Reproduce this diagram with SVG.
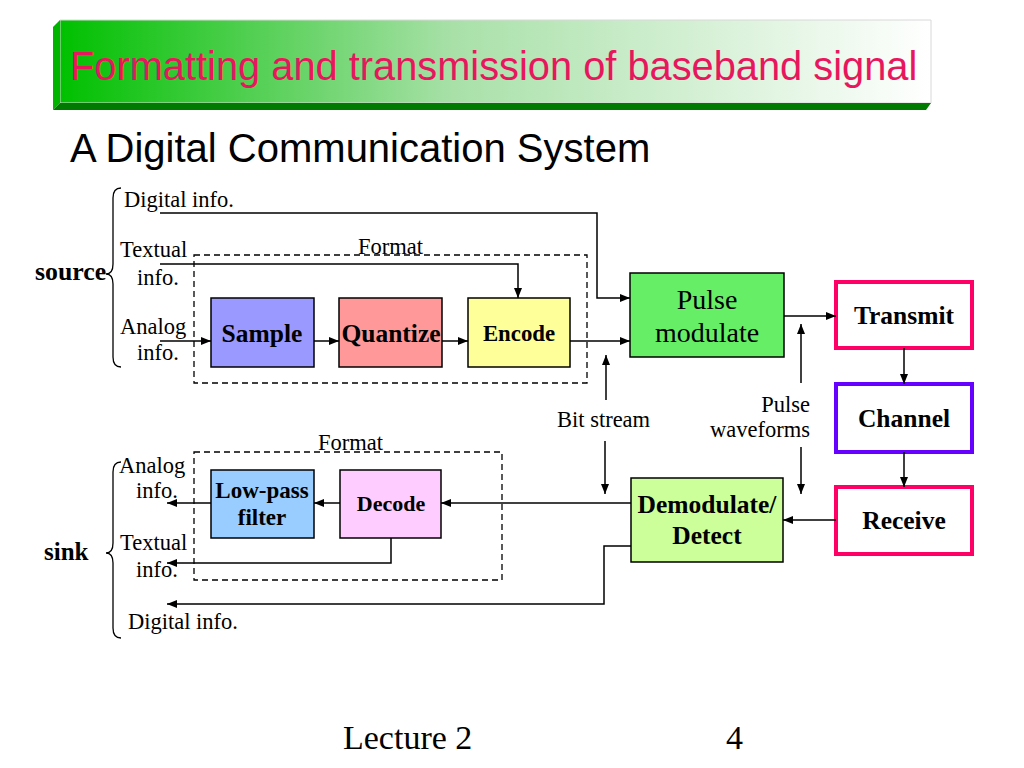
<svg xmlns="http://www.w3.org/2000/svg" width="1024" height="768" viewBox="0 0 1024 768">
<defs>
<linearGradient id="bg" x1="0" y1="0" x2="1" y2="0">
<stop offset="0" stop-color="#00C000"/>
<stop offset="0.45" stop-color="#A8E0A8"/>
<stop offset="1" stop-color="#FFFFFF"/>
</linearGradient>
<marker id="ah" viewBox="0 0 10 10" refX="10" refY="5" markerWidth="10" markerHeight="10" markerUnits="userSpaceOnUse" orient="auto">
<path d="M0,1 L10,5 L0,9 z" fill="#000"/>
</marker>
<style>
.serif{font-family:"Liberation Serif","Times New Roman",serif;fill:#000}
.lbl{font-size:22.5px}
.b{font-weight:bold}
.bx{font-size:25.5px;font-weight:bold}
.c{stroke:#000;stroke-width:1.5;fill:none}
.box{stroke:#000;stroke-width:1.5}
.dash{stroke:#000;stroke-width:1.3;fill:none;stroke-dasharray:6,4}
.brace{stroke:#000;stroke-width:1.3;fill:none}
</style>
</defs>
<rect width="1024" height="768" fill="#fff"/>
<g id="banner">
<polygon points="60,20 931,20 931,103 60,103" fill="url(#bg)" stroke="#D8D8D8" stroke-width="1"/>
<polygon points="53,27 60,20 60,103 53,110" fill="#00B400"/>
<polygon points="53,110 60,103 931,103 926,110" fill="#007A00"/>
<text x="70" y="80" font-family="Liberation Sans, Arial, sans-serif" font-size="39.8" fill="#E8175D">Formatting and transmission of baseband signal</text>
</g>
<text x="70" y="162" font-family="Liberation Sans, Arial, sans-serif" font-size="40" fill="#000">A Digital Communication System</text>
<g id="source-labels" class="serif">
<path class="brace" d="M121,188 Q113,188 113,198 L113,264 Q113,274 106,274 Q113,274 113,284 L113,357 Q113,367 121,367"/>
<text x="35" y="280" font-size="25.8" class="b">source</text>
<text x="124" y="207" class="lbl">Digital info.</text>
<text x="120" y="257" class="lbl">Textual</text>
<text x="137" y="285" class="lbl">info.</text>
<text x="120" y="334" class="lbl">Analog</text>
<text x="137" y="360" class="lbl">info.</text>
<text x="358" y="254" class="lbl">Format</text>
</g>
<g id="sink-labels" class="serif">
<path class="brace" d="M121,462 Q113,462 113,472 L113,543 Q113,553 106,553 Q113,553 113,563 L113,628 Q113,638 121,638"/>
<text x="44" y="560" font-size="25" class="b">sink</text>
<text x="119" y="473" class="lbl">Analog</text>
<text x="136" y="498" class="lbl">info.</text>
<text x="120" y="550" class="lbl">Textual</text>
<text x="136" y="577" class="lbl">info.</text>
<text x="128" y="629" class="lbl">Digital info.</text>
<text x="318" y="450" class="lbl">Format</text>
</g>
<g id="format-boxes">
<rect class="dash" x="194" y="255" width="393" height="128"/>
<rect class="dash" x="194" y="452" width="308" height="128"/>
</g>
<g id="sample"><rect class="box" x="211" y="298" width="103" height="69" fill="#9999FF"/><text class="serif bx" x="262" y="342" text-anchor="middle">Sample</text></g>
<g id="quantize"><rect class="box" x="339" y="298" width="103" height="69" fill="#FF9999"/><text class="serif bx" x="391" y="342" text-anchor="middle">Quantize</text></g>
<g id="encode"><rect class="box" x="468" y="298" width="102" height="69" fill="#FFFF99"/><text class="serif b" x="519" y="341" font-size="22.8" text-anchor="middle">Encode</text></g>
<g id="pulse-modulate"><rect class="box" x="630" y="273" width="154" height="84" fill="#66EE66"/><text class="serif" x="707" y="309" font-size="28" text-anchor="middle">Pulse</text><text class="serif" x="707" y="342" font-size="28" text-anchor="middle">modulate</text></g>
<g id="transmit"><rect x="836" y="282" width="136" height="66" fill="#fff" stroke="#FF0066" stroke-width="4"/><text class="serif bx" x="904" y="324" text-anchor="middle">Transmit</text></g>
<g id="channel"><rect x="836" y="384" width="136" height="68" fill="#fff" stroke="#6600FF" stroke-width="4"/><text class="serif bx" x="904" y="427" text-anchor="middle">Channel</text></g>
<g id="receive"><rect x="836" y="487" width="136" height="67" fill="#fff" stroke="#FF0066" stroke-width="4"/><text class="serif bx" x="904" y="529" text-anchor="middle">Receive</text></g>
<g id="demodulate"><rect class="box" x="631" y="478" width="152" height="84" fill="#CCFF99"/><text class="serif bx" x="707" y="513" text-anchor="middle">Demodulate/</text><text class="serif bx" x="707" y="544" text-anchor="middle">Detect</text></g>
<g id="decode"><rect class="box" x="340" y="470" width="101" height="68" fill="#FFCCFF"/><text class="serif b" x="391" y="511" font-size="22" text-anchor="middle">Decode</text></g>
<g id="lowpass"><rect class="box" x="211" y="470" width="103" height="68" fill="#99CCFF"/><text class="serif b" x="262" y="498" font-size="23" text-anchor="middle">Low-pass</text><text class="serif b" x="262" y="525" font-size="23" text-anchor="middle">filter</text></g>
<g id="annotations" class="serif">
<text x="557" y="427" class="lbl">Bit stream</text>
<text x="810" y="412" class="lbl" text-anchor="end">Pulse</text>
<text x="810" y="437" class="lbl" text-anchor="end">waveforms</text>
</g>
<g id="connectors">
<path class="c" marker-end="url(#ah)" d="M160,213 H597 V298 H630"/>
<path class="c" marker-end="url(#ah)" d="M160,264 H518 V298"/>
<path class="c" marker-end="url(#ah)" d="M160,341 H211"/>
<path class="c" marker-end="url(#ah)" d="M314,341 H339"/>
<path class="c" marker-end="url(#ah)" d="M442,341 H468"/>
<path class="c" marker-end="url(#ah)" d="M570,341 H630"/>
<path class="c" marker-end="url(#ah)" d="M784,316 H836"/>
<path class="c" marker-end="url(#ah)" d="M904,348 V384"/>
<path class="c" marker-end="url(#ah)" d="M904,452 V487"/>
<path class="c" marker-end="url(#ah)" d="M836,520 H783"/>
<path class="c" marker-end="url(#ah)" d="M631,503 H441"/>
<path class="c" marker-end="url(#ah)" d="M340,503 H314"/>
<path class="c" marker-end="url(#ah)" d="M211,503 H167"/>
<path class="c" marker-end="url(#ah)" d="M391,538 V563 H167"/>
<path class="c" marker-end="url(#ah)" d="M631,546 H604 V604 H167"/>
<path class="c" marker-end="url(#ah)" d="M606,400 V355"/>
<path class="c" marker-end="url(#ah)" d="M605,441 V494"/>
<path class="c" marker-end="url(#ah)" d="M801,383 V324"/>
<path class="c" marker-end="url(#ah)" d="M801,447 V494"/>
</g>
<g id="footer" class="serif">
<text x="343" y="749" font-size="34">Lecture 2</text>
<text x="726" y="749" font-size="34">4</text>
</g>
</svg>
